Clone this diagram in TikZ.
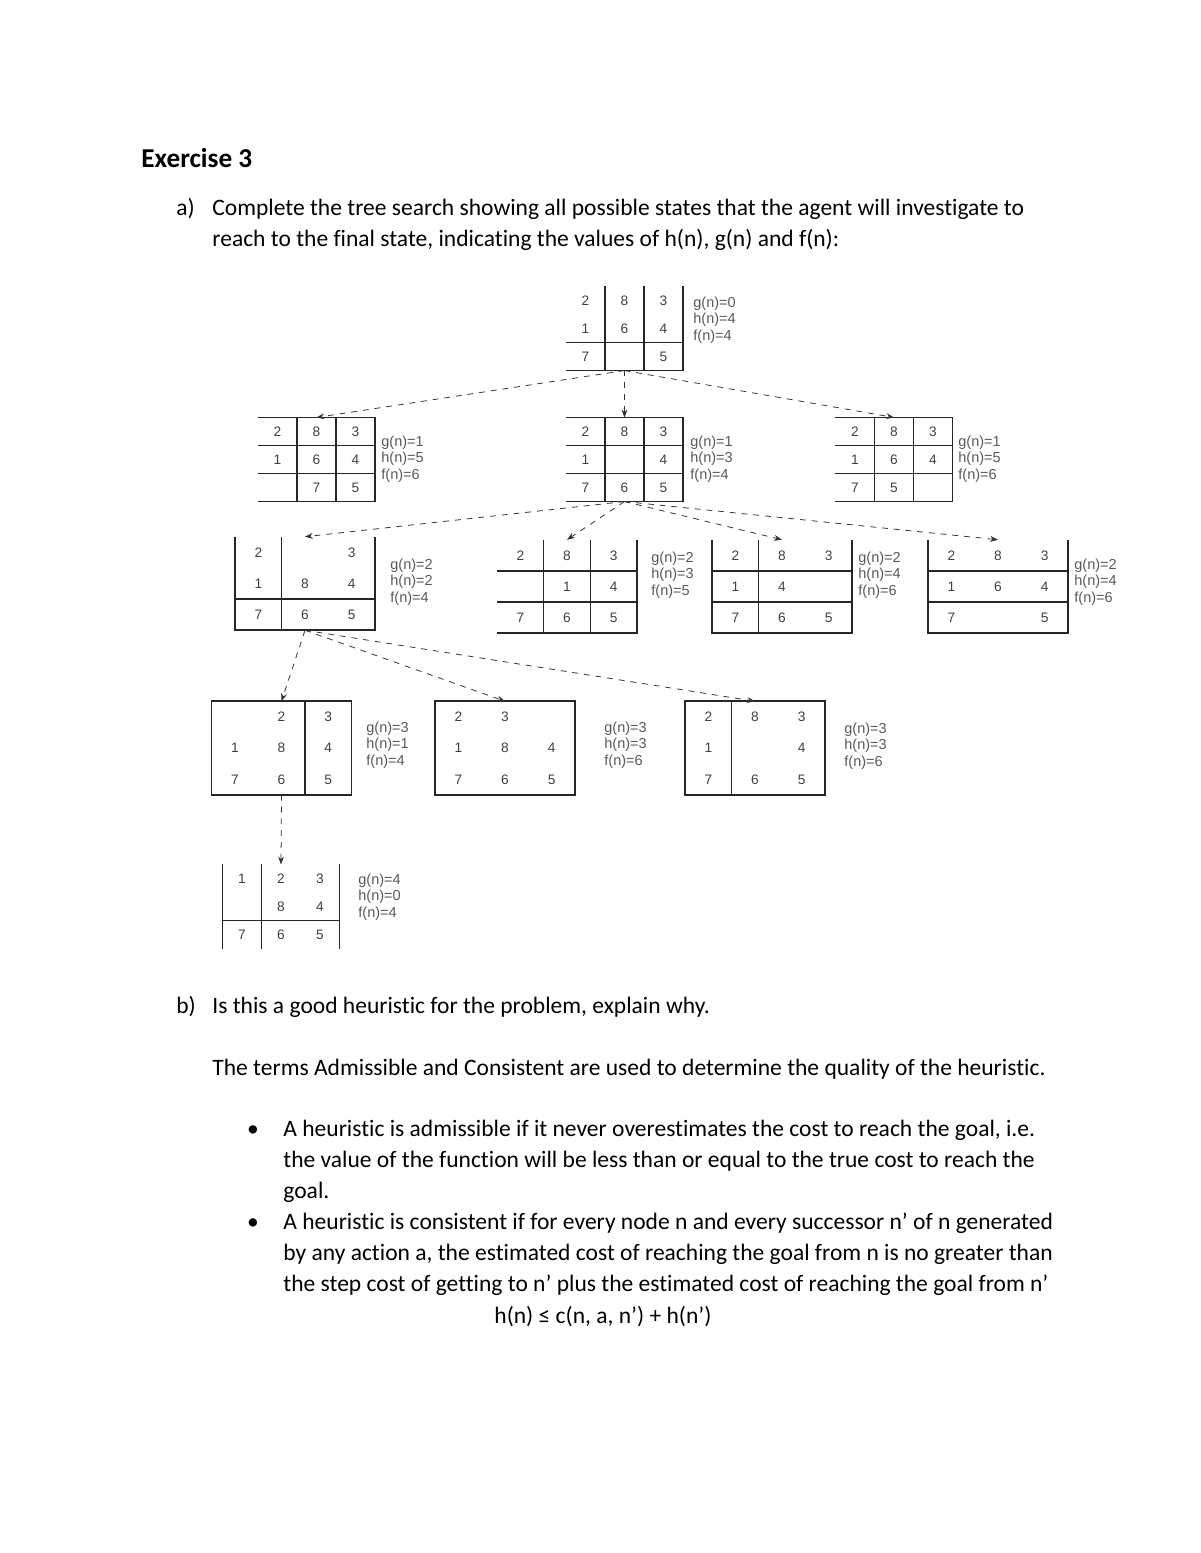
\documentclass[tikz,border=0pt]{standalone}
\usepackage{fontspec}
\setmainfont[Ligatures=NoCommon]{Carlito}
\newfontfamily\boardfont{Liberation Sans}
\usetikzlibrary{matrix, arrows.meta}

\begin{document}
\begin{tikzpicture}[x=0.51pt, y=-0.51pt,
        body/.style={anchor=base west, inner sep=0pt, font=\fontsize{12}{14}\selectfont},
        board/.style={matrix of nodes, nodes in empty cells, inner sep=0pt, outer sep=0pt,
            row sep=0pt, column sep=0pt,
            nodes={anchor=center, inner sep=0pt, text height=5pt, text depth=0pt,
                minimum width=19.9pt, minimum height=14.3pt, text=black!75,
                font=\boardfont\fontsize{7}{8}\selectfont}},
        bigboard/.style={board, nodes={minimum width=23.8pt, minimum height=15.9pt}},
        grid/.style={line width=0.8pt, draw=black!85},
        values/.style={anchor=west, align=left, inner sep=0pt, text=black!65,
            font=\boardfont\fontsize{7.4}{8.4}\selectfont},
        arrow/.style={-{Stealth[length=4pt, width=3pt]}, dashed, thin, draw=black!80}
    ]
    \path[use as bounding box] (0,0) rectangle (1200,1553);

    % question text
    \node (title) at (141,168) [body, font=\bfseries\fontsize{13.9}{16}\selectfont] {Exercise 3};
    \node (qa) at (176,215) [body] {a)};
    \node (qa1) at (212,215) [body] {Complete the tree search showing all possible states that the agent will investigate to};
    \node (qa2) at (212,246) [body] {reach to the final state, indicating the values of h(n), g(n) and f(n):};

    % search tree
    \matrix (s0) [board] at (624.5,328.5) {2 & 8 & 3\\ 1 & 6 & 4\\ 7 & & 5\\};
    \matrix (s1) [board] at (316.5,459.5) {2 & 8 & 3\\ 1 & 6 & 4\\ & 7 & 5\\};
    \matrix (s2) [board] at (624.5,459.5) {2 & 8 & 3\\ 1 & & 4\\ 7 & 6 & 5\\};
    \matrix (s3) [board] at (894,459.5) {2 & 8 & 3\\ 1 & 6 & 4\\ 7 & 5 & \\};
    \matrix (s4) [bigboard] at (305,583.5) {2 & & 3\\ 1 & 8 & 4\\ 7 & 6 & 5\\};
    \matrix (s5) [bigboard] at (567,586.5) {2 & 8 & 3\\ & 1 & 4\\ 7 & 6 & 5\\};
    \matrix (s6) [bigboard] at (782,586.5) {2 & 8 & 3\\ 1 & 4 & \\ 7 & 6 & 5\\};
    \matrix (s7) [bigboard] at (998,586.5) {2 & 8 & 3\\ 1 & 6 & 4\\ 7 & & 5\\};
    \matrix (s8) [bigboard] at (281.5,748) {& 2 & 3\\ 1 & 8 & 4\\ 7 & 6 & 5\\};
    \matrix (s9) [bigboard] at (505,748) {2 & 3 & \\ 1 & 8 & 4\\ 7 & 6 & 5\\};
    \matrix (s10) [bigboard] at (755,748) {2 & 8 & 3\\ 1 & & 4\\ 7 & 6 & 5\\};
    \matrix (s11) [board] at (281,906.5) {1 & 2 & 3\\ & 8 & 4\\ 7 & 6 & 5\\};

    % grid lines
    \draw[grid] (s0-1-1.north east) -- (s0-3-1.south east) (s0-1-2.north east) -- (s0-3-2.south east)
        (s0-3-1.north west) -- (s0-3-3.north east) (s0.north east) -- (s0.south east) -- (s0.south west);
    \draw[grid] (s1.north west) -- (s1.north east) -- (s1.south east) -- (s1.south west)
        (s1-2-1.north west) -- (s1-2-3.north east) (s1-3-1.north west) -- (s1-3-3.north east)
        (s1-1-1.north east) -- (s1-3-1.south east) (s1-1-2.north east) -- (s1-3-2.south east);
    \draw[grid] (s2.north west) -- (s2.north east) -- (s2.south east) -- (s2.south west)
        (s2-2-1.north west) -- (s2-2-3.north east) (s2-3-1.north west) -- (s2-3-3.north east)
        (s2-1-1.north east) -- (s2-3-1.south east) (s2-1-2.north east) -- (s2-3-2.south east);
    \draw[grid] (s3.north west) -- (s3.north east) -- (s3.south east) -- (s3.south west)
        (s3-2-1.north west) -- (s3-2-3.north east) (s3-3-1.north west) -- (s3-3-3.north east)
        (s3-1-1.north east) -- (s3-3-1.south east) (s3-1-2.north east) -- (s3-3-2.south east);
    \draw[grid] (s4.north west) -- (s4.south west) -- (s4.south east) -- (s4.north east)
        (s4-1-1.north east) -- (s4-3-1.south east) (s4-3-1.north west) -- (s4-3-3.north east);
    \draw[grid] (s5.north east) -- (s5.south east) -- (s5.south west)
        (s5-1-1.north east) -- (s5-3-1.south east) (s5-1-2.north east) -- (s5-3-2.south east)
        (s5-2-1.north west) -- (s5-2-3.north east) (s5-3-1.north west) -- (s5-3-3.north east);
    \draw[grid] (s6.north west) -- (s6.south west) -- (s6.south east) -- (s6.north east)
        (s6-1-1.north east) -- (s6-3-1.south east)
        (s6-2-1.north west) -- (s6-2-3.north east) (s6-3-1.north west) -- (s6-3-3.north east);
    \draw[grid] (s7.north west) -- (s7.south west) -- (s7.south east) -- (s7.north east)
        (s7-2-1.north west) -- (s7-2-3.north east) (s7-3-1.north west) -- (s7-3-3.north east);
    \draw[grid] (s8.north west) rectangle (s8.south east) (s8-1-2.north east) -- (s8-3-2.south east);
    \draw[grid] (s9.north west) rectangle (s9.south east);
    \draw[grid] (s10.north west) rectangle (s10.south east) (s10-1-1.north east) -- (s10-3-1.south east);
    \draw[grid] (s11.north west) -- (s11.south west) (s11.north east) -- (s11.south east)
        (s11-1-1.north east) -- (s11-3-1.south east) (s11-3-1.north west) -- (s11-3-3.north east);

    % g, h and f values
    \node (v0) at (693,320) [values] {g(n)=0\\h(n)=4\\f(n)=4};
    \node (v1) at (381,459) [values] {g(n)=1\\h(n)=5\\f(n)=6};
    \node (v2) at (690,459) [values] {g(n)=1\\h(n)=3\\f(n)=4};
    \node (v3) at (958,459) [values] {g(n)=1\\h(n)=5\\f(n)=6};
    \node (v4) at (390,582) [values] {g(n)=2\\h(n)=2\\f(n)=4};
    \node (v5) at (651,575) [values] {g(n)=2\\h(n)=3\\f(n)=5};
    \node (v6) at (858,575) [values] {g(n)=2\\h(n)=4\\f(n)=6};
    \node (v7) at (1074,582) [values] {g(n)=2\\h(n)=4\\f(n)=6};
    \node (v8) at (366,745) [values] {g(n)=3\\h(n)=1\\f(n)=4};
    \node (v9) at (604,745) [values] {g(n)=3\\h(n)=3\\f(n)=6};
    \node (v10) at (844,746) [values] {g(n)=3\\h(n)=3\\f(n)=6};
    \node (v11) at (358,897) [values] {g(n)=4\\h(n)=0\\f(n)=4};

    % tree edges
    \draw [arrow] (s0.south) -- (s1.north);
    \draw [arrow] (s0.south) -- (s2.north);
    \draw [arrow] (s0.south) -- (s3.north);
    \draw [arrow] (s2.south) -- (s4.north);
    \draw [arrow] (s2.south) -- (s5.north);
    \draw [arrow] (s2.south) -- (s6.north);
    \draw [arrow] (s2.south) -- (s7.north);
    \draw [arrow] (s4.south) -- (s8.north);
    \draw [arrow] (s4.south) -- (s9.north);
    \draw [arrow] (s4.south) -- (s10.north);
    \draw [arrow] (s8.south) -- (s11.north);

    % part b
    \node (qb) at (176,1013) [body] {b)};
    \node (qb1) at (212,1013) [body] {Is this a good heuristic for the problem, explain why.};
    \node (terms) at (212,1075) [body] {The terms Admissible and Consistent are used to determine the quality of the heuristic.};
    \node (dot1) at (253,1136) [body, anchor=base] {\textbullet};
    \node (adm1) at (283,1136) [body] {A heuristic is admissible if it never overestimates the cost to reach the goal, i.e.};
    \node (adm2) at (283,1167) [body] {the value of the function will be less than or equal to the true cost to reach the};
    \node (adm3) at (283,1198) [body] {goal.};
    \node (dot2) at (253,1229) [body, anchor=base] {\textbullet};
    \node (con1) at (283,1229) [body] {A heuristic is consistent if for every node n and every successor n’ of n generated};
    \node (con2) at (283,1260) [body] {by any action a, the estimated cost of reaching the goal from n is no greater than};
    \node (con3) at (283,1291) [body] {the step cost of getting to n’ plus the estimated cost of reaching the goal from n’};
    \node (rule) at (494,1323) [body] {h(n) ≤ c(n, a, n’) + h(n’)};

\end{tikzpicture}
\end{document}
